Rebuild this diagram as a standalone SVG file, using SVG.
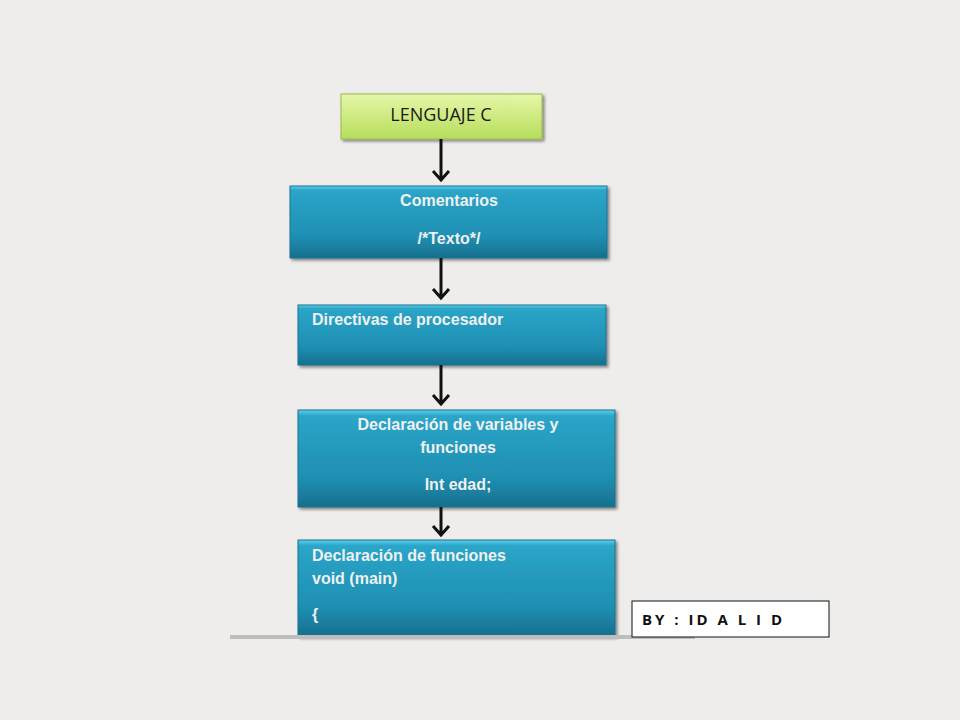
<svg xmlns="http://www.w3.org/2000/svg" width="960" height="720" viewBox="0 0 960 720">
<defs>
<linearGradient id="blue" x1="0" y1="0" x2="0" y2="1">
<stop offset="0" stop-color="#5fd0ea"/><stop offset="0.06" stop-color="#2aa5c8"/><stop offset="0.7" stop-color="#1f8fb3"/><stop offset="1" stop-color="#176f8d"/>
</linearGradient>
<linearGradient id="green" x1="0" y1="0" x2="0" y2="1">
<stop offset="0" stop-color="#e6f7a8"/><stop offset="1" stop-color="#b6dd5a"/>
</linearGradient>
<marker id="ah" viewBox="0 0 10 10" refX="5" refY="8" markerWidth="4.5" markerHeight="4.5" orient="auto-start-reverse" markerUnits="userSpaceOnUse">
</marker>
<filter id="sh" x="-5%" y="-10%" width="115%" height="130%"><feDropShadow dx="2" dy="2" stdDeviation="1.5" flood-color="#000" flood-opacity="0.45"/></filter>
</defs>
<style>
.b{fill:url(#blue);stroke:#1a7290;stroke-width:1;filter:url(#sh)}
.t{font-family:"Liberation Sans",Arial,sans-serif;font-weight:bold;font-size:16px;fill:#f0f0f0}
.c{stroke:#111;stroke-width:3;fill:none}
</style>
<rect width="960" height="720" fill="#efedeb"/>
<g id="n0"><rect x="341" y="94" width="201" height="45" fill="url(#green)" stroke="#9ab84a" filter="url(#sh)"/>
<text x="441" y="121" text-anchor="middle" font-family="'Open Sans','Liberation Sans',sans-serif" font-size="18" fill="#1a1a1a">LENGUAJE C</text></g>
<g id="n1"><rect class="b" x="290" y="186" width="317" height="72"/>
<text class="t" x="449" y="206" text-anchor="middle">Comentarios</text>
<text class="t" x="449" y="244" text-anchor="middle">/*Texto*/</text></g>
<g id="n2"><rect class="b" x="298" y="305" width="308" height="60"/>
<text class="t" x="312" y="325">Directivas de  procesador</text></g>
<g id="n3"><rect class="b" x="298" y="410" width="317" height="97"/>
<text class="t" x="458" y="430" text-anchor="middle">Declaración de variables y</text>
<text class="t" x="458" y="453" text-anchor="middle">funciones</text>
<text class="t" x="458" y="490" text-anchor="middle">Int edad;</text></g>
<g id="n4"><rect class="b" x="298" y="540" width="317" height="96"/>
<text class="t" x="312" y="561">Declaración de funciones</text>
<text class="t" x="312" y="584">void (main)</text>
<text class="t" x="312" y="620">{</text></g>
<rect x="230" y="635" width="465" height="4" fill="#bdbdbd"/>
<g id="connectors">
<path class="c" d="M441 139V180M433 171l8 9 8-9"/>
<path class="c" d="M441 258V298M433 289l8 9 8-9"/>
<path class="c" d="M441 365V404M433 395l8 9 8-9"/>
<path class="c" d="M441 507V535M433 526l8 9 8-9"/>
</g>
<g id="by"><rect x="632" y="601" width="197" height="36" fill="#fff" stroke="#111" stroke-width="1"/>
<text x="642" y="625" font-family="'Open Sans','Liberation Sans',sans-serif" font-weight="bold" font-size="15" fill="#111" letter-spacing="3">BY :  ID A L I D</text></g>
</svg>
